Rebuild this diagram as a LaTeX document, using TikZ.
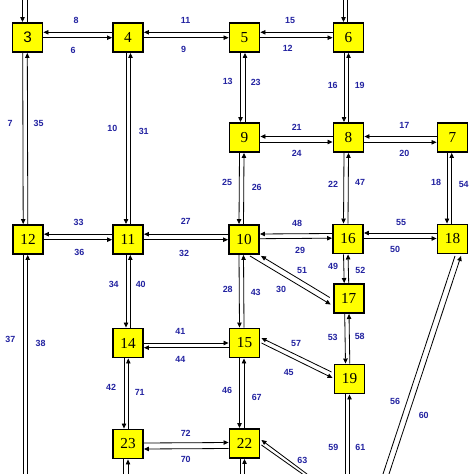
\documentclass[tikz,border=0pt]{standalone}
\usepackage{fontspec}
\setmainfont{Liberation Serif}
\newfontfamily\lblfont{Liberation Sans}
\usetikzlibrary{arrows.meta,calc}
\definecolor{lblue}{RGB}{34,34,160}
\definecolor{boxy}{RGB}{255,255,0}
\tikzset{
 zone/.style={draw=black, line width=1.6pt, fill=boxy, minimum width=9.0mm, minimum height=8.7mm, inner sep=0pt, font=\fontsize{13}{13}\selectfont},
 lb/.style={text=lblue, font=\lblfont\bfseries\fontsize{7.6}{8}\selectfont, inner sep=0pt},
 lk/.style={line width=0.7pt},
 >={Triangle[length=4.3pt,width=3.8pt]}
}
\newcommand\hpair[6]{%
  \draw[lk,#5] ($(#1.east)+(0,#3)$) -- ($(#2.west)+(0,#3)$);
  \draw[lk,#6] ($(#1.east)+(0,#4)$) -- ($(#2.west)+(0,#4)$);}
\newcommand\vpair[4]{%
  \draw[lk,->] ($(#1.south)+(#3,0)$) -- ($(#2.north)+(#3,0)$);
  \draw[lk,<-] ($(#1.south)+(#4,0)$) -- ($(#2.north)+(#4,0)$);}
\begin{document}
\begin{tikzpicture}[x=0.3mm,y=-0.3mm]
\useasboundingbox (0,0) rectangle (474,474);
% nodes
\node[zone] (n3) at (27.5,37.5) {\lblfont 3};
\node[zone] (n4) at (128,37.5) {4};
\node[zone] (n5) at (244.5,37.5) {5};
\node[zone] (n6) at (348.5,37.5) {6};
\node[zone] (n9) at (244.5,137.5) {9};
\node[zone] (n8) at (348.5,137.5) {8};
\node[zone] (n7) at (452.5,137.5) {7};
\node[zone] (n12) at (28,239.5) {12};
\node[zone] (n11) at (128,239.5) {11};
\node[zone] (n10) at (244,239.5) {10};
\node[zone] (n16) at (348,239) {16};
\node[zone] (n18) at (452.5,239) {18};
\node[zone] (n17) at (348.7,298.5) {17};
\node[zone] (n14) at (128,343) {14};
\node[zone] (n15) at (244.5,343) {15};
\node[zone] (n19) at (349.5,379) {19};
\node[zone] (n23) at (128,444) {23};
\node[zone] (n22) at (244.5,443.5) {22};
% edge coordinates
\coordinate (t3) at (27.5,0);
\coordinate (t6) at (348.5,0);
\coordinate (b12) at (28,474);
\coordinate (b23) at (128,474);
\coordinate (b22) at (244.5,474);
\coordinate (b19) at (349.5,474);
\coordinate (b18a) at (383,474);
\coordinate (b18b) at (389,474);
\coordinate (b22a) at (307,474);
\coordinate (b22b) at (302.5,474);
% vertical pairs
\vpair{n3}{n12}{-4.8}{-0.2}
\vpair{n4}{n11}{-2}{2.5}
\vpair{n5}{n9}{-4}{0.5}
\vpair{n6}{n8}{-4.5}{0}
\vpair{n9}{n10}{-5}{-0.5}
\vpair{n8}{n16}{-4.5}{0}
\vpair{n7}{n18}{-5.5}{-0.8}
\vpair{n16}{n17}{-4.5}{0}
\vpair{n11}{n14}{-2}{2.3}
\vpair{n10}{n15}{-5}{-0.5}
\vpair{n17}{n19}{-4}{0.3}
\vpair{n14}{n23}{-4}{0.3}
\vpair{n15}{n22}{-5}{-0.5}
% horizontal pairs
\hpair{n3}{n4}{-5.2}{0.2}{<-}{->}
\hpair{n4}{n5}{-5.2}{0.2}{<-}{->}
\hpair{n5}{n6}{-5.2}{0.2}{<-}{->}
\hpair{n9}{n8}{-1}{4.5}{<-}{->}
\hpair{n8}{n7}{-1}{4.8}{<-}{->}
\hpair{n12}{n11}{-5.3}{0.2}{<-}{->}
\hpair{n11}{n10}{-5.3}{0.2}{<-}{->}
\hpair{n10}{n16}{-5.5}{-0.8}{<-}{->}
\hpair{n16}{n18}{-6}{-0.5}{<-}{->}
\hpair{n14}{n15}{0}{4.7}{->}{<-}
\hpair{n23}{n22}{-1}{5}{->}{<-}
% links to the picture edges
\draw[lk,->] ($(t3)+(-5,0)$) -- ($(n3.north)+(-5,0)$);
\draw[lk] ($(t3)+(-0.5,0)$) -- ($(n3.north)+(-0.5,0)$);
\draw[lk,->] ($(t6)+(-5,0)$) -- ($(n6.north)+(-5,0)$);
\draw[lk] ($(t6)+(-1,0)$) -- ($(n6.north)+(-1,0)$);
\draw[lk] ($(n12.south)+(-5,0)$) -- ($(b12)+(-5,0)$);
\draw[lk,<-] ($(n12.south)+(-0.3,0)$) -- ($(b12)+(-0.3,0)$);
\draw[lk] ($(n23.south)+(-4.5,0)$) -- ($(b23)+(-4.5,0)$);
\draw[lk,<-] (n23.south) -- (b23);
\draw[lk] ($(n22.south)+(-4.5,0)$) -- ($(b22)+(-4.5,0)$);
\draw[lk,<-] (n22.south) -- (b22);
\draw[lk] ($(n19.south)+(-4,0)$) -- ($(b19)+(-4,0)$);
\draw[lk,<-] (n19.south) -- (b19);
% diagonals
\draw[lk,<-] ($(n10.south east)+(1,1)$) -- ($(n17.west)+(-3,-1)$);
\draw[lk,->] ($(n10.south east)+(-10,1)$) -- ($(n17.west)+(-2,6)$);
\draw[lk,<-] ($(n15.east)+(1,-5)$) -- ($(n19.west)+(-2,-7)$);
\draw[lk,->] ($(n15.east)+(1,0)$) -- ($(n19.west)+(-1,-1)$);
\draw[lk] (b18a) -- ($(n18.south)+(2.5,1.5)$);
\draw[lk,->] (b18b) -- ($(n18.south)+(8.5,1.5)$);
\draw[lk,<-] ($(n22.east)+(1,-3.5)$) -- (b22a);
\draw[lk] ($(n22.east)+(1,1.5)$) -- (b22b);
% labels
\node[lb] (l8) at (76,20.7) {8};
\node[lb] (l6) at (73,50) {6};
\node[lb] (l11) at (185.7,20.7) {11};
\node[lb] (l9) at (183.7,49.3) {9};
\node[lb] (l15) at (290,20) {15};
\node[lb] (l12) at (287.7,48.3) {12};
\node[lb] (l13) at (227.7,81.7) {13};
\node[lb] (l23) at (255.7,82.7) {23};
\node[lb] (l16) at (332.7,85.7) {16};
\node[lb] (l19) at (359.7,85.7) {19};
\node[lb] (l7) at (10,123.3) {7};
\node[lb] (l35) at (38.7,123.3) {35};
\node[lb] (l10) at (112.3,128.3) {10};
\node[lb] (l31) at (143.7,131) {31};
\node[lb] (l21) at (296.7,127.7) {21};
\node[lb] (l24) at (296.7,153.3) {24};
\node[lb] (l17) at (404.3,125) {17};
\node[lb] (l20) at (404.3,153.3) {20};
\node[lb] (l25) at (227,182.7) {25};
\node[lb] (l26) at (256.7,187.7) {26};
\node[lb] (l22) at (333,184.7) {22};
\node[lb] (l47) at (360,182.3) {47};
\node[lb] (l18) at (436,182.7) {18};
\node[lb] (l54) at (463.7,184.7) {54};
\node[lb] (l33) at (78.7,222.7) {33};
\node[lb] (l36) at (79.3,252.3) {36};
\node[lb] (l27) at (185.7,221.7) {27};
\node[lb] (l32) at (184,253) {32};
\node[lb] (l48) at (297,223.3) {48};
\node[lb] (l29) at (300,250) {29};
\node[lb] (l55) at (401,222.7) {55};
\node[lb] (l50) at (395,249.3) {50};
\node[lb] (l51) at (302,270.7) {51};
\node[lb] (l49) at (333,266) {49};
\node[lb] (l52) at (360.3,270.7) {52};
\node[lb] (l34) at (113.7,284.3) {34};
\node[lb] (l40) at (140.7,284.3) {40};
\node[lb] (l28) at (227.7,289.3) {28};
\node[lb] (l43) at (255.7,292.7) {43};
\node[lb] (l30) at (281,289.3) {30};
\node[lb] (l37) at (10.3,339) {37};
\node[lb] (l38) at (40.7,343.3) {38};
\node[lb] (l41) at (180.3,331.7) {41};
\node[lb] (l44) at (180.3,359) {44};
\node[lb] (l57) at (296,343.3) {57};
\node[lb] (l45) at (288.7,372.3) {45};
\node[lb] (l53) at (332.7,337.3) {53};
\node[lb] (l58) at (359.7,336.7) {58};
\node[lb] (l42) at (111,387.3) {42};
\node[lb] (l71) at (139.7,392.3) {71};
\node[lb] (l46) at (227,390) {46};
\node[lb] (l67) at (256.7,397.7) {67};
\node[lb] (l56) at (395,401.7) {56};
\node[lb] (l60) at (423.7,415.3) {60};
\node[lb] (l72) at (185.7,433.7) {72};
\node[lb] (l70) at (185.7,459.3) {70};
\node[lb] (l59) at (333.3,447.7) {59};
\node[lb] (l61) at (360.3,447.7) {61};
\node[lb] (l63) at (302.3,460.7) {63};
\end{tikzpicture}
\end{document}
